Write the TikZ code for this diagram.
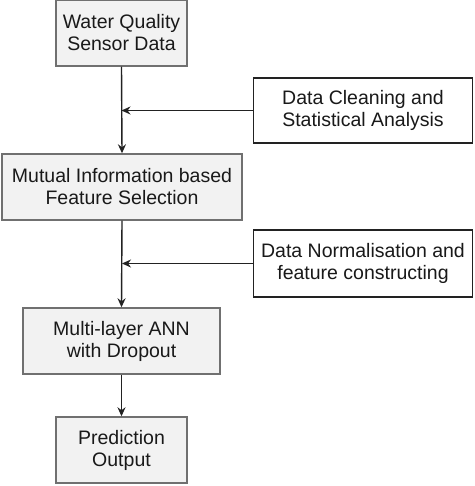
\documentclass[tikz,border=0pt]{standalone}
\usepackage{fontspec}
\setmainfont{Liberation Sans}
\usetikzlibrary{arrows.meta}
\definecolor{boxfill}{HTML}{F2F2F2}
\definecolor{boxline}{HTML}{707070}
\definecolor{darkline}{HTML}{222222}
\begin{document}
\begin{tikzpicture}[x=1pt,y=1pt,
  lbox/.style={draw=boxline,line width=1.4pt,fill=boxfill,align=center,inner sep=0pt,
    font=\fontsize{19.5}{22}\selectfont,text=black!90},
  rbox/.style={draw=darkline,line width=1.8pt,fill=white,align=center,inner sep=0pt,
    font=\fontsize{19.5}{22}\selectfont,text=black!90},
  conn/.style={draw=darkline,line width=1.4pt,-{Stealth[length=9pt,width=8pt]}}]
\useasboundingbox (0,0) rectangle (474,-486);
\node[lbox,minimum width=131pt,minimum height=66pt] (b1) at (121.5,-33) {Water Quality\\Sensor Data};
\node[rbox,minimum width=219pt,minimum height=65pt] (b2) at (363,-110.5) {Data Cleaning and\\Statistical Analysis};
\node[lbox,minimum width=240pt,minimum height=66pt] (b3) at (122,-187) {Mutual Information based\\Feature Selection};
\node[rbox,minimum width=219pt,minimum height=67pt] (b4) at (363,-263.5) {Data Normalisation and\\feature constructing};
\node[lbox,minimum width=197pt,minimum height=66pt] (b5) at (121.5,-341) {Multi-layer ANN\\with Dropout};
\node[lbox,minimum width=131pt,minimum height=66pt] (b6) at (121.5,-450) {Prediction\\Output};
\coordinate (j1) at (b1.south |- b2.west);
\coordinate (j2) at (b3.south |- b4.west);
\draw[conn] (b1.south) -- (b3.north);
\draw[conn] (b2.west) -- (j1);
\draw[conn] (b3.south) -- (b5.north);
\draw[conn] (b4.west) -- (j2);
\draw[conn] (b5.south) -- (b6.north);
\end{tikzpicture}
\end{document}
